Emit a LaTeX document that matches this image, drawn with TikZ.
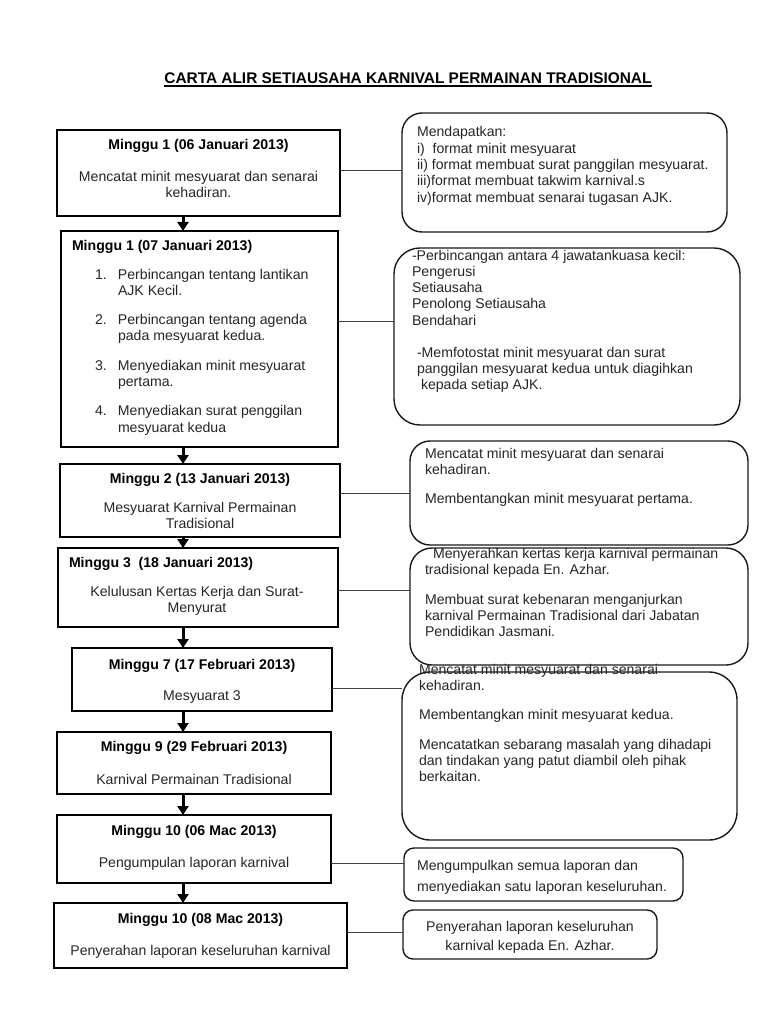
\documentclass[tikz,border=0pt]{standalone}
\usepackage{fontspec}
\setmainfont{Liberation Sans}
\usetikzlibrary{arrows.meta}
\newcommand\fsz{\fontsize{14.1}{16.3}\selectfont}
\newcommand\tsz{\fontsize{15.4}{18}\selectfont\bfseries}
\begin{document}
\begin{tikzpicture}[x=1pt,y=-1pt,
  every node/.style={inner sep=0pt, outer sep=0pt, font=\fsz, text=black!85},
  lbox/.style={draw=black, line width=1.4pt, rectangle},
  rbox/.style={draw=black!90, line width=1.4pt, rectangle, rounded corners=#1},
  conn/.style={draw=black!75, line width=1pt},
  flow/.style={draw=black, line width=3pt, -{Triangle[width=11pt,length=9pt]}},
  hd/.style={font=\fsz\bfseries, text=black},
  topline/.style={draw=black, line width=2.6pt},
]
\fill[white] (0,0) rectangle (768,1024);
\useasboundingbox (0,0) rectangle (768,1024);

% title
\node[font=\tsz, text=black, anchor=base] (t0) at (408,83.5) {CARTA ALIR SETIAUSAHA KARNIVAL PERMAINAN TRADISIONAL};
\draw[line width=1.2pt] ([yshift=-2.5pt]t0.base west) -- ([yshift=-2.5pt]t0.base east);

% left boxes
\node[lbox, minimum width=283, minimum height=86] (b1) at (198.5,173) {};
\node[lbox, minimum width=277, minimum height=216] (b2) at (199.5,339) {};
\node[lbox, minimum width=280, minimum height=73] (b3) at (200,500.5) {};
\node[lbox, minimum width=280, minimum height=79] (b4) at (198,587.5) {};
\node[lbox, minimum width=260, minimum height=63] (b5) at (202,679.5) {};
\node[lbox, minimum width=274, minimum height=62] (b6) at (194,763) {};
\node[lbox, minimum width=274, minimum height=68] (b7) at (194,849) {};
\node[lbox, minimum width=293, minimum height=65] (b8) at (200.5,935.5) {};
\draw[topline] (b1.north west) -- (b1.north east);
\draw[topline] (b5.north west) -- (b5.north east);
\draw[topline] (b7.north west) -- (b7.north east);

% right boxes
\node[rbox=20pt, minimum width=325, minimum height=119] (r1) at (564.5,172.5) {};
\node[rbox=26pt, minimum width=346, minimum height=177] (r2) at (567,336.5) {};
\node[rbox=20pt, minimum width=338, minimum height=104] (r3) at (579,493) {};
\node[rbox=22pt, minimum width=338, minimum height=117] (r4) at (579,606.5) {};
\node[rbox=28pt, minimum width=335, minimum height=168] (r5) at (569.5,756) {};
\node[rbox=10pt, minimum width=279, minimum height=53] (r6) at (543.5,874.5) {};
\node[rbox=10pt, minimum width=254, minimum height=49] (r7) at (530,934.5) {};

% left texts (multi-line nodes: base = last line)
\node[hd, anchor=base] (b1h) at (198.5,150) {Minggu 1 (06 Januari 2013)};
\node[anchor=base, align=center] (b1x) at (198.5,197.5) {Mencatat minit mesyuarat dan senarai\\kehadiran.};

\node[hd, anchor=base west] (b2h) at (72,250) {Minggu 1 (07 Januari 2013)};
\node[anchor=base west] (b2x) at (95,279) {\renewcommand\arraystretch{1}\begin{tabular}[t]{@{}l@{}l@{}}
\makebox[23pt][l]{1.} & Perbincangan tentang lantikan\\
 & AJK Kecil.\\[13pt]
\makebox[23pt][l]{2.} & Perbincangan tentang agenda\\
 & pada mesyuarat kedua.\\[13pt]
\makebox[23pt][l]{3.} & Menyediakan minit mesyuarat\\
 & pertama.\\[13pt]
\makebox[23pt][l]{4.} & Menyediakan surat penggilan\\
 & mesyuarat kedua
\end{tabular}};

\node[hd, anchor=base] (b3h) at (200,483) {Minggu 2 (13 Januari 2013)};
\node[anchor=base, align=center] (b3x) at (200,528.3) {Mesyuarat Karnival Permainan\\Tradisional};

\node[hd, anchor=base west] (b4h) at (69,567) {Minggu 3\ \ (18 Januari 2013)};
\node[anchor=base, align=center] (b4x) at (197,612.3) {Kelulusan Kertas Kerja dan Surat-\\Menyurat};

\node[hd, anchor=base] (b5h) at (202,669) {Minggu 7 (17 Februari 2013)};
\node[anchor=base] (b5x) at (202,700) {Mesyuarat 3};

\node[hd, anchor=base] (b6h) at (194,751) {Minggu 9 (29 Februari 2013)};
\node[anchor=base] (b6x) at (194,784) {Karnival Permainan Tradisional};

\node[hd, anchor=base] (b7h) at (194,835) {Minggu 10 (06 Mac 2013)};
\node[anchor=base] (b7x) at (194,867) {Pengumpulan laporan karnival};

\node[hd, anchor=base] (b8h) at (200.5,923) {Minggu 10 (08 Mac 2013)};
\node[anchor=base] (b8x) at (200.5,955) {Penyerahan laporan keseluruhan karnival};

% right texts (base = last line)
\node[anchor=base west, align=left] (r1x) at (417,202.2) {Mendapatkan:\\i)\ \ format minit mesyuarat\\ii) format membuat surat panggilan mesyuarat.\\iii)format membuat takwim karnival.s\\iv)format membuat senarai tugasan AJK.};
\node[anchor=base west, align=left] (r2a) at (412,325.2) {-Perbincangan antara 4 jawatankuasa kecil:\\Pengerusi\\Setiausaha\\Penolong Setiausaha\\Bendahari};
\node[anchor=base west, align=left] (r2b) at (417,389.6) {-Memfotostat minit mesyuarat dan surat\\panggilan mesyuarat kedua untuk diagihkan\\\hspace*{4pt}kepada setiap AJK.};
\node[anchor=base west, align=left] (r3x) at (425,503.3) {Mencatat minit mesyuarat dan senarai\\kehadiran.\\[12.7pt]Membentangkan minit mesyuarat pertama.};
\node[anchor=base west, align=left] (r4x) at (425,636.9) {\hspace*{8pt}Menyerahkan kertas kerja karnival permainan\\tradisional kepada En. Azhar.\\[13.7pt]Membuat surat kebenaran menganjurkan\\karnival Permainan Tradisional dari Jabatan\\Pendidikan Jasmani.};
\node[anchor=base west, align=left] (r5x) at (419,781.9) {Mencatat minit mesyuarat dan senarai\\kehadiran.\\[12.7pt]Membentangkan minit mesyuarat kedua.\\[13.7pt]Mencatatkan sebarang masalah yang dihadapi\\dan tindakan yang patut diambil oleh pihak\\berkaitan.};
\node[anchor=base west, align=left] (r6x) at (417,891) {Mengumpulkan semua laporan dan\\[4.7pt]menyediakan satu laporan keseluruhan.};
\node[anchor=base, align=center] (r7x) at (530,950) {Penyerahan laporan keseluruhan\\[2.7pt]karnival kepada En. Azhar.};

% flow arrows
\coordinate (ax) at (183,0);
\draw[flow] (b1.south -| ax) -- (b2.north -| ax);
\draw[flow] (b2.south -| ax) -- (b3.north -| ax);
\draw[flow] (b3.south -| ax) -- (b4.north -| ax);
\draw[flow] (b4.south -| ax) -- (b5.north -| ax);
\draw[flow] (b5.south -| ax) -- (b6.north -| ax);
\draw[flow] (b6.south -| ax) -- (b7.north -| ax);
\draw[flow] (b7.south -| ax) -- (b8.north -| ax);

% connectors
\coordinate (k1) at (0,171);
\coordinate (k2) at (0,321);
\coordinate (k3) at (0,493);
\coordinate (k4) at (0,590);
\coordinate (k5) at (0,688.5);
\coordinate (k7) at (0,863);
\coordinate (k8) at (0,932);
\draw[conn] (b1.east |- k1) -- (r1.west |- k1);
\draw[conn] (b2.east |- k2) -- (r2.west |- k2);
\draw[conn] (b3.east |- k3) -- (r3.west |- k3);
\draw[conn] (b4.east |- k4) -- (r4.west |- k4);
\draw[conn] (b5.east |- k5) -- (r5.west |- k5);
\draw[conn] (b7.east |- k7) -- (r6.west |- k7);
\draw[conn] (b8.east |- k8) -- (r7.west |- k8);
\end{tikzpicture}
\end{document}
